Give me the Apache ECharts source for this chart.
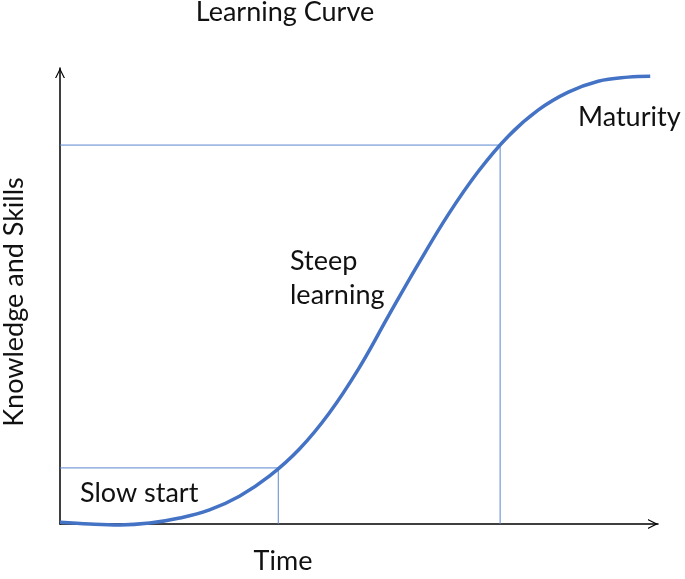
<!DOCTYPE html>
<html>
<head>
<meta charset="utf-8">
<script src="https://cdn.jsdelivr.net/npm/echarts@6/dist/echarts.min.js"></script>
<style>
  html, body { margin: 0; padding: 0; background: #fff; }
  #chart { width: 685px; height: 579px; }
</style>
</head>
<body>
<div id="chart"></div>
<script>
// curve (time 0..10, skills 0..10)
const timeValues = [0, 0.5, 1.0, 1.5, 2.0, 2.5, 3.0, 3.5, 4.0, 4.5, 5.0, 5.5, 6.0, 6.5, 7.0, 7.5, 8.0, 8.5, 9.0, 9.5, 9.87]
const skillValues = [0.04, 0.0, -0.02, 0.02, 0.13, 0.31, 0.61, 1.05, 1.64, 2.43, 3.42, 4.58, 5.72, 6.80, 7.74, 8.51, 9.08, 9.47, 9.71, 9.80, 9.82]

// the two guide points (end of slow start, start of maturity)
const milestoneTime = [3.65, 7.36]
const milestoneSkill = [1.23, 8.31]

const FONT = 'Lato'
const BLUE = '#4472C4'
const ARROW = 'path://M0,10 L5,0 L10,10 L8.7,10 L5,2.6 L1.3,10 Z'

const curve = timeValues.map((t, i) => [t, skillValues[i]])

const guides = milestoneTime.map((t, i) => ({
  type: 'line',
  data: [[0, milestoneSkill[i]], [t, milestoneSkill[i]], [t, 0]],
  symbol: 'none',
  silent: true,
  z: 1,
  lineStyle: { color: '#5B86D0', width: 1 },
}))

const axisCommon = {
  type: 'value',
  min: 0,
  max: 10,
  nameLocation: 'middle',
  axisLine: {
    lineStyle: { color: '#000', width: 1.5 },
    symbol: ['none', ARROW],
    symbolSize: [13, 10],
    symbolOffset: [0, -5],
  },
  axisTick: { show: false },
  axisLabel: { show: false },
  splitLine: { show: false },
}

const chart = echarts.init(document.getElementById('chart'))

chart.setOption({
  animation: false,
  title: {
    text: 'Learning Curve',
    left: 285,
    top: -1,
    padding: 0,
    textAlign: 'center',
    textStyle: { fontFamily: FONT, fontSize: 27, fontWeight: 'normal', color: '#111' },
  },
  grid: { left: 60, right: 27, top: 68, bottom: 55, outerBoundsMode: 'none' },
  xAxis: {
    ...axisCommon,
    name: 'Time',
    nameGap: 24,
    // the label sits left of the axis middle in the original
    nameTextStyle: { fontFamily: FONT, fontSize: 27, color: '#111', padding: [0, 152, 0, 0] },
  },
  yAxis: {
    ...axisCommon,
    name: 'Knowledge and Skills',
    nameGap: 32,
    nameTextStyle: { fontFamily: FONT, fontSize: 27, color: '#111', padding: [0, 12, 0, 0] },
  },
  series: [
    ...guides,
    {
      type: 'line',
      data: curve,
      smooth: 0.4,
      symbol: 'none',
      clip: false,
      z: 3,
      lineStyle: { color: BLUE, width: 3.5 },
    },
  ],
  graphic: [
    { type: 'text', left: 80, top: 480, style: { text: 'Slow start', font: '27px ' + FONT, fill: '#111' } },
    { type: 'text', left: 290, top: 244, style: { text: 'Steep\nlearning', font: '27px ' + FONT, lineHeight: 34, fill: '#111' } },
    { type: 'text', left: 578, top: 104, style: { text: 'Maturity', font: '27px ' + FONT, fill: '#111' } },
  ],
})
</script>
</body>
</html>
